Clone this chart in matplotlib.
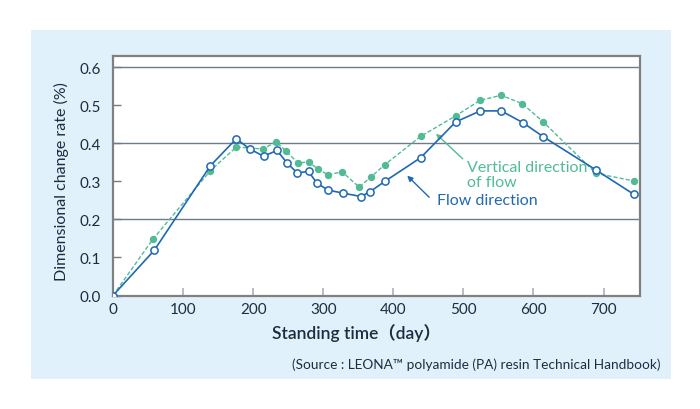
import matplotlib
matplotlib.use('Agg')
import matplotlib.pyplot as plt
import matplotlib.patches as mpatches

plt.rcParams['font.family'] = ['Lato', 'Noto Sans CJK JP', 'DejaVu Sans']

# data
flow_days = [0, 59, 139, 176, 195, 215, 234, 249, 263, 279, 291, 307, 328, 354, 367, 388,
             439, 489, 524, 554, 585, 614, 689, 743]
flow_rate = [0.0, 0.119, 0.341, 0.412, 0.385, 0.366, 0.381, 0.347, 0.322, 0.326, 0.295, 0.277,
             0.269, 0.260, 0.273, 0.300, 0.362, 0.456, 0.485, 0.485, 0.454, 0.417, 0.330, 0.266]

vert_days = [0, 57, 139, 176, 214, 233, 247, 264, 279, 292, 307, 327, 351, 368, 388,
             439, 489, 524, 554, 584, 614, 689, 743]
vert_rate = [0.0, 0.148, 0.328, 0.390, 0.385, 0.404, 0.379, 0.348, 0.351, 0.333, 0.317, 0.325,
             0.285, 0.311, 0.344, 0.418, 0.472, 0.513, 0.526, 0.504, 0.456, 0.321, 0.301]

x_ticks = [0, 100, 200, 300, 400, 500, 600, 700]
y_ticks = [0.0, 0.1, 0.2, 0.3, 0.4, 0.5, 0.6]
grid_y = [0.2, 0.4, 0.6]

BLUE = '#1f68b4'
GREEN = '#52bb96'
TEXT = '#1e2d3d'

fig = plt.figure(figsize=(7, 4.1), dpi=100)
fig.patch.set_facecolor('white')

# 背景パネル
panel = mpatches.Rectangle((0.0443, 0.0732), 0.9143, 0.8512, transform=fig.transFigure,
                           facecolor='#e1f1fc', edgecolor='none', zorder=-10)
fig.patches.append(panel)

ax = fig.add_axes([0.1614, 0.2768, 0.7529, 0.5849])
ax.set_facecolor('white')
ax.set_xlim(0, 752)
ax.set_ylim(0, 0.63)

for gy in grid_y:
    ax.axhline(gy, color='#6f7c88', lw=1.0, zorder=1)

ax.plot(vert_days, vert_rate, color=GREEN, lw=1.0, ls=(0, (3, 1.5)), marker='o',
        markersize=4.3, markerfacecolor=GREEN, markeredgecolor=GREEN, zorder=3)
ax.plot(flow_days, flow_rate, color=BLUE, lw=1.2, marker='o', markersize=5.2,
        markerfacecolor='white', markeredgecolor=BLUE, markeredgewidth=1.1, zorder=4)

ax.set_xticks(x_ticks)
ax.set_yticks(y_ticks)
ax.set_yticklabels([f'{v:.1f}' for v in y_ticks])
ax.tick_params(axis='x', direction='in', length=6, width=1.2, color='#a9b2bb',
               labelsize=11, labelcolor=TEXT, pad=5)
ax.tick_params(axis='y', direction='in', length=6, width=1.0, color='#6f7c88',
               labelsize=11, labelcolor=TEXT, pad=9)

for s in ax.spines.values():
    s.set_color('#808080')
    s.set_linewidth(1.6)

ax.set_xlabel('Standing time（day）', fontsize=12.5, fontweight='semibold', color=TEXT)
ax.xaxis.set_label_coords((356 - 113) / 527, -0.152)
ax.xaxis.label.set_va('center')
ax.set_ylabel('Dimensional change rate (%)', fontsize=11.5, color=TEXT)
ax.yaxis.set_label_coords(-0.098, 0.48)
ax.yaxis.label.set_va('center')

# 注釈
ax.annotate('', xy=(458, 0.430), xytext=(502, 0.354),
            arrowprops=dict(arrowstyle='-|>', color=GREEN, lw=1.0, mutation_scale=8))
ax.text(505, 0.318, 'Vertical direction\nof flow', color=GREEN, fontsize=11.5,
        ha='left', va='center', linespacing=1.1)
ax.annotate('', xy=(417, 0.320), xytext=(454, 0.253),
            arrowprops=dict(arrowstyle='-|>', color=BLUE, lw=1.0, mutation_scale=8))
ax.text(462, 0.250, 'Flow direction', color=BLUE, fontsize=11.5, ha='left', va='center')

fig.text(661 / 700, 1 - 365 / 410, '(Source : LEONA™ polyamide (PA) resin Technical Handbook)',
         ha='right', va='center', fontsize=9.8, color=TEXT)

fig.savefig('out.png', dpi=100)
